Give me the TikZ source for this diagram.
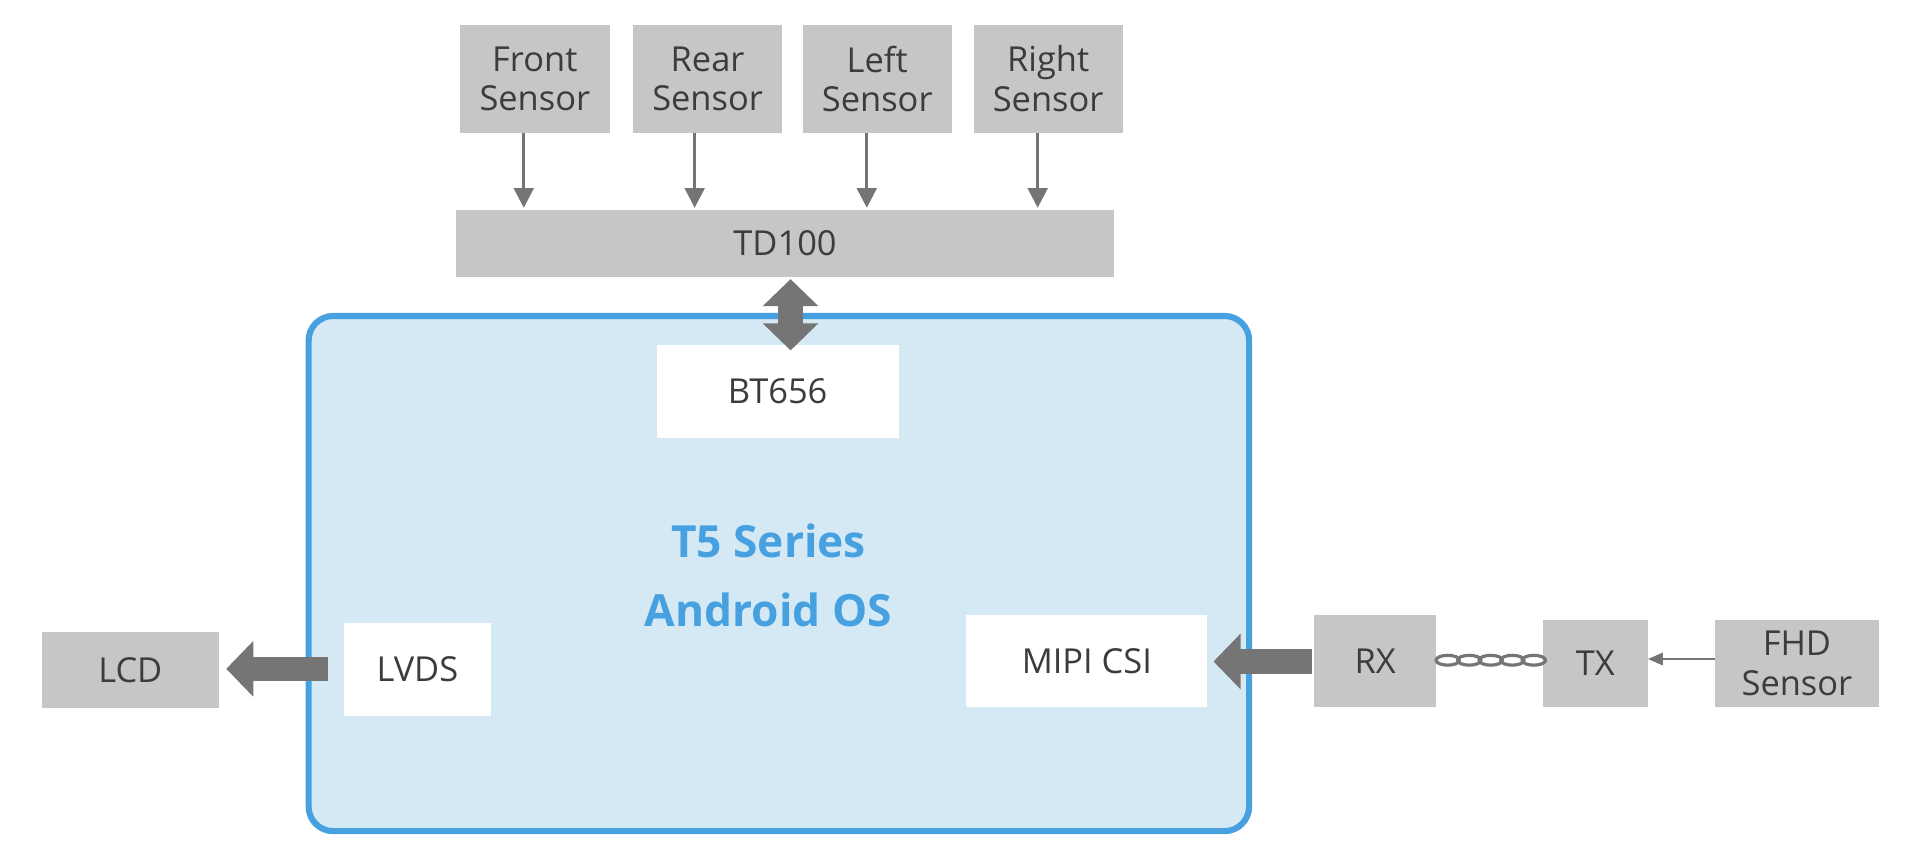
\documentclass[tikz,border=0pt]{standalone}
\usepackage{fontspec}
\setmainfont{Open Sans}
\usetikzlibrary{arrows.meta}
\definecolor{gbox}{HTML}{C6C6C6}
\definecolor{txt}{HTML}{3C3C3C}
\definecolor{blueb}{HTML}{47A0E0}
\definecolor{bluef}{HTML}{D4E9F4}
\definecolor{arr}{HTML}{757575}
\begin{document}
\begin{tikzpicture}[x=0.5pt,y=-0.5pt,
 box/.style={draw=none,fill=gbox,text=txt,font=\fontsize{14}{16}\selectfont,align=center,inner sep=0},
 wbox/.style={fill=white,text=txt,font=\fontsize{14}{16}\selectfont,align=center,inner sep=0},
 thin/.style={draw=arr,line width=1.2pt,-{Triangle[length=8pt,width=8pt]}},
 thick/.style={draw=arr,line width=10pt,-{Triangle[length=11pt,width=22pt]}}]
\useasboundingbox (0,0) rectangle (1560,691);
\def\bx#1#2#3#4#5#6#7{\node[#7,minimum width={(#4-#2)*0.5pt},minimum height={(#5-#3)*0.5pt}] (#1) at ({(#2+#4)/2},{(#3+#5)/2}) {#6};}
\bx{fs}{374}{20}{496}{108}{Front\\Sensor}{box}
\bx{rs}{515}{20}{636}{108}{Rear\\Sensor}{box}
\bx{ls}{653}{20}{774}{108}{Left\\Sensor}{box}
\bx{ris}{792}{20}{913}{108}{Right\\Sensor}{box}
\bx{td}{371}{171}{906}{225}{TD100}{box}
\foreach \n/\x in {fs/426,rs/565,ls/705,ris/844}{
 \coordinate (a\n) at (\x,108); \coordinate (b\n) at (\x,169);
 \draw[thin] (a\n) -- (b\n);}
\node[draw=blueb,line width=2.5pt,fill=bluef,rounded corners=10pt,minimum width=382.5pt,minimum height=209.5pt,inner sep=0] (t5) at (633.5,466.5) {};
\node[text=blueb,font=\fontsize{18}{28}\selectfont\bfseries,align=center] (t5t) at (625,468) {T5 Series\\Android OS};
\bx{bt}{534}{281}{731}{356}{BT656}{wbox}
\bx{lv}{280}{507}{399}{582}{LVDS}{wbox}
\bx{lcd}{34}{514}{178}{576}{LCD}{box}
\bx{mi}{786}{500}{982}{575}{MIPI CSI}{wbox}
\bx{rx}{1069}{500}{1168}{575}{RX}{box}
\bx{tx}{1255}{504}{1340}{575}{TX}{box}
\bx{fhd}{1395}{504}{1528}{575}{FHD\\Sensor}{box}
\coordinate (d1) at (643,227); \coordinate (d2) at (643,285);
\draw[draw=arr,line width=10pt,{Triangle[length=11pt,width=22pt]}-{Triangle[length=11pt,width=22pt]}] (d1) -- (d2);
\coordinate (lvs) at (267,544); \coordinate (lcde) at (184,544);
\draw[thick] (lvs) -- (lcde);
\coordinate (rxs) at (1067,538); \coordinate (mie) at (987,538);
\draw[thick] (rxs) -- (mie);
\draw[draw=arr,line width=0.8pt,-{Triangle[length=6pt,width=5pt]}] (fhd.west |- 0,536) -- (tx.east |- 0,536);
\foreach \i in {0,...,4}
 \draw[arr,line width=1.3pt] ({1177.5+\i*17.5},537) ellipse (9.5 and 4);
\end{tikzpicture}
\end{document}
